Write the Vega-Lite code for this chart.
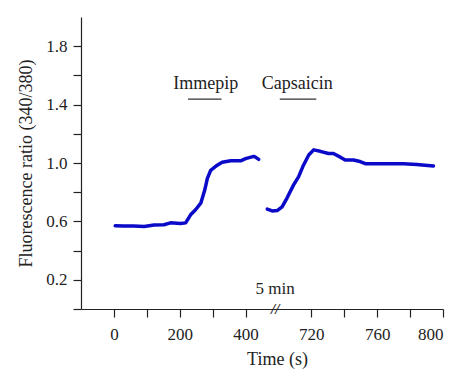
{
  "$schema": "https://vega.github.io/schema/vega-lite/v6.json",
  "width": 362,
  "height": 292,
  "autosize": {"type": "none"},
  "padding": {"left": 81, "top": 17, "right": 31, "bottom": 78},
  "background": "white",
  "config": {
    "view": {"stroke": null},
    "font": "Liberation Serif",
    "axis": {"grid": false, "domainColor": "#222", "tickColor": "#222", "labelColor": "#222", "titleColor": "#222", "labelFont": "Liberation Serif", "titleFont": "Liberation Serif", "labelFontSize": 17, "titleFontSize": 18, "titleFontWeight": "normal", "tickSize": 8, "domainWidth": 1.2, "tickWidth": 1.2, "labelOverlap": false, "tickCount": 30}
  },
  "datasets": {
    "trace": [
      {"seg": "before", "t": 4, "ratio": 0.57},
      {"seg": "before", "t": 30, "ratio": 0.568},
      {"seg": "before", "t": 60, "ratio": 0.568},
      {"seg": "before", "t": 92, "ratio": 0.565},
      {"seg": "before", "t": 122, "ratio": 0.575},
      {"seg": "before", "t": 152, "ratio": 0.577},
      {"seg": "before", "t": 172, "ratio": 0.59},
      {"seg": "before", "t": 202, "ratio": 0.585},
      {"seg": "before", "t": 218, "ratio": 0.59},
      {"seg": "before", "t": 233, "ratio": 0.645},
      {"seg": "before", "t": 248, "ratio": 0.68},
      {"seg": "before", "t": 264, "ratio": 0.725},
      {"seg": "before", "t": 276, "ratio": 0.815},
      {"seg": "before", "t": 284, "ratio": 0.895},
      {"seg": "before", "t": 294, "ratio": 0.95},
      {"seg": "before", "t": 314, "ratio": 0.985},
      {"seg": "before", "t": 329, "ratio": 1.005},
      {"seg": "before", "t": 355, "ratio": 1.015},
      {"seg": "before", "t": 385, "ratio": 1.015},
      {"seg": "before", "t": 400, "ratio": 1.03},
      {"seg": "before", "t": 425, "ratio": 1.045},
      {"seg": "before", "t": 430, "ratio": 1.04},
      {"seg": "before", "t": 440, "ratio": 1.025},
      {"seg": "after", "t": 693.2, "ratio": 0.684},
      {"seg": "after", "t": 696.2, "ratio": 0.672},
      {"seg": "after", "t": 699.2, "ratio": 0.674},
      {"seg": "after", "t": 702.2, "ratio": 0.7},
      {"seg": "after", "t": 705.2, "ratio": 0.76},
      {"seg": "after", "t": 709.2, "ratio": 0.85},
      {"seg": "after", "t": 712.2, "ratio": 0.905},
      {"seg": "after", "t": 715.2, "ratio": 0.985},
      {"seg": "after", "t": 718.4, "ratio": 1.055},
      {"seg": "after", "t": 721.4, "ratio": 1.09},
      {"seg": "after", "t": 725.4, "ratio": 1.08},
      {"seg": "after", "t": 730.4, "ratio": 1.065},
      {"seg": "after", "t": 733.4, "ratio": 1.065},
      {"seg": "after", "t": 737.6, "ratio": 1.04},
      {"seg": "after", "t": 740.6, "ratio": 1.02},
      {"seg": "after", "t": 745.6, "ratio": 1.02},
      {"seg": "after", "t": 749.6, "ratio": 1.01},
      {"seg": "after", "t": 752.8, "ratio": 0.995},
      {"seg": "after", "t": 763.8, "ratio": 0.995},
      {"seg": "after", "t": 776, "ratio": 0.995},
      {"seg": "after", "t": 784, "ratio": 0.99},
      {"seg": "after", "t": 794.2, "ratio": 0.98}
    ],
    "drugs": [
      {"label": "Immepip", "tmid": 279, "tstart": 225, "tend": 327, "ylab": 1.54, "ybar": 1.438},
      {"label": "Capsaicin", "tmid": 711.4, "tstart": 700.8, "tend": 723, "ylab": 1.54, "ybar": 1.438}
    ],
    "brk": [
      {"t": 698, "y": 0, "mark": "//", "note": "5 min", "ynote": 0.135}
    ]
  },
  "layer": [
    {
      "data": {"name": "trace"},
      "mark": {"type": "line", "color": "#0a0ac8", "strokeWidth": 3.5, "strokeJoin": "round", "strokeCap": "round"},
      "encoding": {
        "x": {
          "field": "t", "type": "quantitative",
          "scale": {"type": "linear", "domain": [-100, 450, 690, 800], "range": [0, 181, 181, 362], "nice": false, "zero": false},
          "axis": {"title": "Time (s)", "values": [0, 100, 200, 300, 400, 720, 740, 760, 780, 800],
            "labelExpr": "indexof([0,200,400,720,760,800], datum.value) >= 0 ? datum.label : ''",
            "labelPadding": 9, "titlePadding": 8, "titleX": 196}
        },
        "y": {
          "field": "ratio", "type": "quantitative",
          "scale": {"domain": [0, 2], "nice": false, "zero": false},
          "axis": {"title": "Fluorescence ratio (340/380)", "values": [0, 0.2, 0.4, 0.6, 0.8, 1.0, 1.2, 1.4, 1.6, 1.8],
            "labelExpr": "(round(datum.value * 10) % 4 == 2) ? format(datum.value, '.1f') : ''",
            "labelPadding": 6, "titlePadding": 10}
        },
        "detail": {"field": "seg"}
      }
    },
    {
      "data": {"name": "drugs"},
      "mark": {"type": "text", "fontSize": 18, "color": "#222", "baseline": "middle", "font": "Liberation Serif"},
      "encoding": {
        "x": {"field": "tmid", "type": "quantitative"},
        "y": {"field": "ylab", "type": "quantitative"},
        "text": {"field": "label"}
      }
    },
    {
      "data": {"name": "drugs"},
      "mark": {"type": "rule", "color": "#333", "strokeWidth": 1.3},
      "encoding": {
        "x": {"field": "tstart", "type": "quantitative"},
        "x2": {"field": "tend"},
        "y": {"field": "ybar", "type": "quantitative"}
      }
    },
    {
      "data": {"name": "brk"},
      "mark": {"type": "text", "fontSize": 15, "color": "#222", "baseline": "middle", "font": "Liberation Serif", "fontStyle": "italic", "fontWeight": "bold"},
      "encoding": {
        "x": {"field": "t", "type": "quantitative"},
        "y": {"field": "y", "type": "quantitative"},
        "text": {"field": "mark"}
      }
    },
    {
      "data": {"name": "brk"},
      "mark": {"type": "text", "fontSize": 17, "color": "#222", "baseline": "middle", "font": "Liberation Serif"},
      "encoding": {
        "x": {"field": "t", "type": "quantitative"},
        "y": {"field": "ynote", "type": "quantitative"},
        "text": {"field": "note"}
      }
    }
  ]
}
